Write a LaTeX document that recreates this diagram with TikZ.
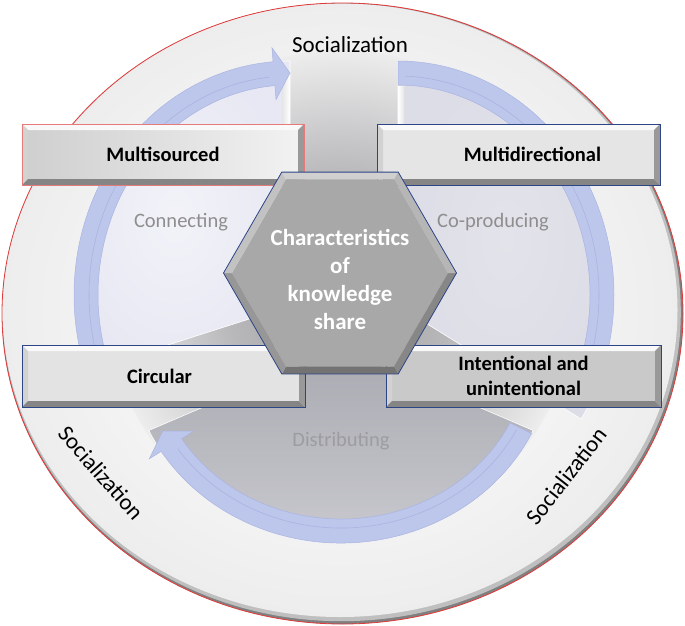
\documentclass[tikz,border=0pt]{standalone}
\usepackage{fontspec}
\setmainfont{Carlito}
\usetikzlibrary{calc}
\definecolor{ringblue}{HTML}{BDC6EB}
\definecolor{ringedge}{HTML}{AAB4E0}
\definecolor{navy}{HTML}{2E4585}
\definecolor{redline}{HTML}{E03A3A}
\definecolor{boxred}{HTML}{E57A7A}
\definecolor{lbl}{HTML}{8E8E8E}
\definecolor{lbld}{HTML}{9C9CA2}
\definecolor{dtop}{HTML}{A9A9B1}
\definecolor{dbot}{HTML}{CDCDD3}
\definecolor{bevtopc}{HTML}{F9F9F9}
\definecolor{bevleftc}{HTML}{D2D2D2}
\definecolor{bevbotc}{HTML}{858585}
\definecolor{bevrightc}{HTML}{999999}
\definecolor{hexface}{HTML}{A8A8A8}
\definecolor{hexT}{HTML}{D0D0D0}
\definecolor{hexUL}{HTML}{C2C2C2}
\definecolor{hexUR}{HTML}{B6B6B6}
\definecolor{hexR}{HTML}{878787}
\definecolor{hexB}{HTML}{737373}
\definecolor{hexLL}{HTML}{979797}
\pgfdeclareradialshading{disksh}{\pgfpoint{0bp}{0bp}}{rgb(0bp)=(0.975,0.975,0.975); rgb(17bp)=(0.955,0.955,0.955); rgb(25bp)=(0.93,0.93,0.93); rgb(50bp)=(0.93,0.93,0.93)}
\pgfdeclareradialshading{hubsh}{\pgfpoint{0bp}{0bp}}{rgb(0bp)=(0.62,0.62,0.63); rgb(12bp)=(0.72,0.72,0.73); rgb(16.5bp)=(0.79,0.79,0.8); rgb(22bp)=(0.88,0.88,0.88); rgb(25bp)=(0.93,0.93,0.93); rgb(50bp)=(0.93,0.93,0.93)}
\pgfdeclareradialshading{consh}{\pgfpoint{0bp}{0bp}}{rgb(0bp)=(0.95,0.95,0.975); rgb(25bp)=(0.91,0.91,0.955); rgb(50bp)=(0.91,0.91,0.955)}
\pgfdeclareradialshading{copsh}{\pgfpoint{0bp}{0bp}}{rgb(0bp)=(0.89,0.89,0.92); rgb(25bp)=(0.865,0.865,0.905); rgb(50bp)=(0.865,0.865,0.905)}
\tikzset{
  bevelbox/.style={draw=#1, line width=0.7pt, inner sep=0pt, align=center,
    font=\bfseries\fontsize{20.5}{25}\selectfont,
    path picture={
      \path (path picture bounding box.north west) coordinate (bnw)
            (path picture bounding box.north east) coordinate (bne)
            (path picture bounding box.south west) coordinate (bsw)
            (path picture bounding box.south east) coordinate (bse);
      \fill[bevtopc] (bnw) -- (bne) -- ([shift={(-6pt,-6pt)}]bne) -- ([shift={(6pt,-6pt)}]bnw) -- cycle;
      \fill[bevleftc] (bnw) -- ([shift={(6pt,-6pt)}]bnw) -- ([shift={(6pt,6pt)}]bsw) -- (bsw) -- cycle;
      \fill[bevbotc] (bsw) -- ([shift={(6pt,6pt)}]bsw) -- ([shift={(-6pt,6pt)}]bse) -- (bse) -- cycle;
      \fill[bevrightc] (bse) -- ([shift={(-6pt,6pt)}]bse) -- ([shift={(-6pt,-6pt)}]bne) -- (bne) -- cycle;
    }},
  seglabel/.style={font=\fontsize{20.5}{25}\selectfont, text=lbl},
  soclabel/.style={font=\fontsize{23}{28}\selectfont, text=black},
  arrowband/.style={fill=ringblue, draw=ringedge, line width=0.5pt},
  sectoredge/.style={draw=white, line width=0.6pt}
}
\begin{document}
\begin{tikzpicture}[x=1pt,y=-1pt]
\useasboundingbox (0,0) rectangle (685,625);
% outer disk with shadow rim
\fill[black!50] (342.5,313.5) ellipse[x radius=340.5, y radius=310.5];
\fill[black!25] (341.5,312.2) ellipse[x radius=339.3, y radius=309];
\shade[shading=disksh] (340,310.25) ellipse[x radius=337.5, y radius=306.75];
\draw[redline, line width=0.8pt] (342.5,313.5) ellipse[x radius=340.5, y radius=310.5];
% hub behind sectors
\shade[shading=hubsh] (341,295) ellipse[x radius=235, y radius=245];
% centers
\coordinate (C1) at (290,295);
\coordinate (C2) at (398,295);
\coordinate (C3) at (341,348);
\coordinate (H) at (340,273);
% sectors
\shade[shading=consh, sectoredge] (290,306) -- ($(C1)+({216*cos(161)},{234*sin(161)})$)
  arc[start angle=161, end angle=270, x radius=216, y radius=234] -- cycle;
\shade[shading=copsh, sectoredge] (398,306) -- (398,61)
  arc[start angle=-90, end angle=32, x radius=216, y radius=234] -- cycle;
\shade[top color=dtop, bottom color=dbot, sectoredge] (341,348) -- ($(C3)+({212*cos(25)},{195*sin(25)})$)
  arc[start angle=25, end angle=155, x radius=212, y radius=195] -- cycle;
% 3D side stripes in the top gap
\shade[left color=black!10, right color=white] (282,74) rectangle (290,124);
\shade[left color=white, right color=black!10] (398,86) rectangle (404,124);
% arrows
\path[arrowband] ($(C1)+({216*cos(160)},{234*sin(160)})$)
  arc[start angle=160, end angle=265.5, x radius=216, y radius=234]
  -- ($(C1)+({230*cos(265.5)},{248*sin(265.5)})$)
  -- ($(C1)+({204*cos(270)},{222*sin(270)})$)
  -- ($(C1)+({178*cos(265.5)},{196*sin(265.5)})$)
  -- ($(C1)+({192*cos(265.5)},{210*sin(265.5)})$)
  arc[start angle=265.5, end angle=160, x radius=192, y radius=210] -- cycle;
\path[arrowband] ($(C2)+({216*cos(-90)},{234*sin(-90)})$)
  arc[start angle=-90, end angle=25, x radius=216, y radius=234]
  -- ($(C2)+({192*cos(25)},{210*sin(25)})$)
  arc[start angle=25, end angle=-90, x radius=192, y radius=210] -- cycle;
\path[arrowband] ($(C3)+({212*cos(26)},{195*sin(26)})$)
  arc[start angle=26, end angle=148, x radius=212, y radius=195]
  -- ($(C3)+({226*cos(148)},{209*sin(148)})$)
  -- ($(C3)+({200*cos(153)},{183*sin(153)})$)
  -- ($(C3)+({174*cos(148)},{157*sin(148)})$)
  -- ($(C3)+({188*cos(148)},{171*sin(148)})$)
  arc[start angle=148, end angle=26, x radius=188, y radius=171] -- cycle;
% inner highlight lines of the bands
\draw[ringedge, line width=0.6pt] ($(C1)+({201*cos(160)},{219*sin(160)})$)
  arc[start angle=160, end angle=264, x radius=201, y radius=219];
\draw[ringedge, line width=0.6pt] ($(C2)+({201*cos(-88)},{219*sin(-88)})$)
  arc[start angle=-88, end angle=25, x radius=201, y radius=219];
\draw[ringedge, line width=0.6pt] ($(C3)+({197*cos(27)},{180*sin(27)})$)
  arc[start angle=27, end angle=146, x radius=197, y radius=180];
% segment labels
\node[seglabel] (con) at (181,222) {Connecting};
\node[seglabel] (cop) at (493,222) {Co-producing};
\node[seglabel, text=lbld] (dis) at (341,441) {Distributing};
% boxes
\node[bevelbox=boxred, left color=black!19, right color=black!5, minimum width=282pt, minimum height=61pt] (ms) at (163,154.5) {Multisourced};
\node[bevelbox=navy, fill=black!10, minimum width=283pt, minimum height=61pt] (md) at (518.5,154.5) {\hspace*{28pt}Multidirectional};
\node[bevelbox=navy, fill=black!11, minimum width=283pt, minimum height=62pt] (ci) at (163.5,376) {Circular\hspace*{8pt}};
\node[bevelbox=navy, fill=black!21, minimum width=275pt, minimum height=62pt] (iu) at (523.5,376) {Intentional and\\unintentional};
% hexagon
\fill[hexface] ($(H)+(0:108)$) -- ($(H)+(60:108)$) -- ($(H)+(120:108)$) -- ($(H)+(180:108)$) -- ($(H)+(240:108)$) -- ($(H)+(300:108)$) -- cycle;
\foreach \a/\c in {0/hexR, 60/hexB, 120/hexLL, 180/hexUL, 240/hexT, 300/hexUR}{
  \fill[\c] ($(H)+(\a:116.5)$) -- ($(H)+({\a+60}:116.5)$) -- ($(H)+({\a+60}:108)$) -- ($(H)+(\a:108)$) -- cycle;
}
\draw[navy, line width=0.8pt] ($(H)+(0:116.5)$) -- ($(H)+(60:116.5)$) -- ($(H)+(120:116.5)$) -- ($(H)+(180:116.5)$) -- ($(H)+(240:116.5)$) -- ($(H)+(300:116.5)$) -- cycle;
\node[align=center, text=white, font=\bfseries\fontsize{23}{28.3}\selectfont] (hex) at (340,279.5) {Characteristics\\of\\knowledge\\share};
% socialization labels
\node[soclabel] (soc1) at (350,45) {Socialization};
\node[soclabel, rotate=-48.6] (soc2) at (101,473) {Socialization};
\node[soclabel, rotate=52] (soc3) at (566,476) {Socialization};
\end{tikzpicture}
\end{document}
